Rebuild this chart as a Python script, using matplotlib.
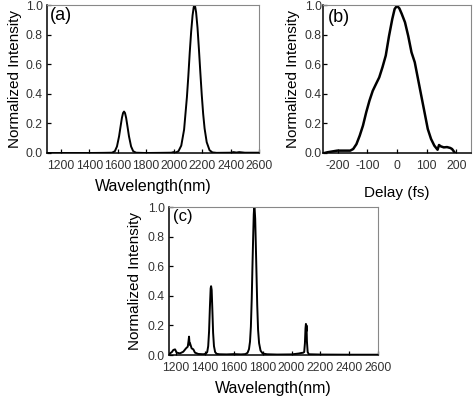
import matplotlib
matplotlib.use("Agg")
import matplotlib.pyplot as plt
from matplotlib import font_manager

# ── data ───────────────────────────────────────────────────────────

# (a) output spectrum, two peaks
wl_a = [1100, 1200, 1300, 1400, 1500, 1560, 1580, 1595, 1610, 1620, 1630, 1638,
        1645, 1652, 1660, 1670, 1680, 1695, 1710, 1730, 1800, 1900, 1980, 1995,
        2010, 2030, 2050, 2070, 2090, 2100, 2110, 2120, 2130, 2138, 2143, 2148,
        2155, 2165, 2175, 2185, 2195, 2205, 2215, 2230, 2250, 2270, 2300, 2400,
        2420, 2440, 2460, 2500, 2600]
int_a = [0.0, 0.0, 0.0, 0.0, 0.001, 0.002, 0.012, 0.044, 0.113, 0.176, 0.237, 0.27,
         0.28, 0.27, 0.237, 0.176, 0.113, 0.044, 0.012, 0.002, 0.0, 0.001, 0.002, 0.006,
         0.003, 0.012, 0.05, 0.158, 0.378, 0.52, 0.68, 0.82, 0.93, 0.985, 1.0, 0.99,
         0.95, 0.846, 0.70, 0.543, 0.392, 0.264, 0.166, 0.073, 0.019, 0.004, 0.001, 0.002,
         0.006, 0.003, 0.006, 0.002, 0.002]

# (b) autocorrelation trace
delay_b = [-245, -235, -202, -158, -148, -137, -126, -115, -104, -93, -82, -71,
           -60, -49, -38, -27, -16, -8, 0, 8, 16, 27, 38, 49, 60, 71, 82, 93,
           104, 115, 126, 137, 142, 148, 158, 169, 180, 186, 196]
int_b = [0.0, 0.005, 0.016, 0.016, 0.027, 0.06, 0.117, 0.185, 0.275, 0.354, 0.42, 0.466,
         0.511, 0.58, 0.658, 0.79, 0.905, 0.973, 0.995, 0.977, 0.94, 0.883, 0.79, 0.68,
         0.613, 0.5, 0.387, 0.275, 0.162, 0.095, 0.05, 0.022, 0.054, 0.045, 0.038, 0.04,
         0.034, 0.027, 0.0]

# (c) cascaded spectrum
wl_c = [1150, 1157, 1170, 1180, 1192, 1203, 1226, 1249, 1268, 1280, 1285, 1289,
        1293, 1296, 1307, 1319, 1330, 1353, 1388, 1405, 1415, 1422, 1428, 1434,
        1439, 1442, 1446, 1451, 1456, 1462, 1470, 1480, 1500, 1550, 1600, 1650,
        1680, 1695, 1705, 1712, 1718, 1724, 1729, 1734, 1738, 1741, 1744, 1748,
        1752, 1757, 1762, 1768, 1775, 1785, 1800, 1830, 1900, 2000, 2050, 2070,
        2080, 2088, 2093, 2097, 2100, 2102, 2104, 2107, 2112, 2120, 2200, 2400, 2600]
int_c = [0.0, 0.011, 0.02, 0.034, 0.038, 0.016, 0.011, 0.022, 0.045, 0.056, 0.09, 0.124,
         0.07, 0.079, 0.045, 0.038, 0.016, 0.007, 0.005, 0.008, 0.02, 0.06, 0.16, 0.33,
         0.45, 0.465, 0.44, 0.30, 0.15, 0.06, 0.02, 0.008, 0.005, 0.004, 0.006, 0.004,
         0.006, 0.015, 0.04, 0.09, 0.19, 0.38, 0.60, 0.80, 0.95, 1.0, 0.99, 0.92,
         0.76, 0.55, 0.34, 0.17, 0.08, 0.03, 0.01, 0.005, 0.003, 0.004, 0.01, 0.014,
         0.015, 0.02, 0.08, 0.18, 0.21, 0.16, 0.2, 0.09, 0.02, 0.005, 0.003, 0.002, 0.002]

y_ticks = [0.0, 0.2, 0.4, 0.6, 0.8, 1.0]
wl_ticks = [1200, 1400, 1600, 1800, 2000, 2200, 2400, 2600]
delay_ticks = [-200, -100, 0, 100, 200]

# ── style ──────────────────────────────────────────────────────────

installed = {f.name for f in font_manager.fontManager.ttflist}
SANS = "Liberation Sans" if "Liberation Sans" in installed else "DejaVu Sans"

plt.rcParams["font.family"] = SANS
plt.rcParams["axes.unicode_minus"] = False


def _style(ax, ypad=3):
    for side in ("left", "bottom"):
        ax.spines[side].set_color("black")
        ax.spines[side].set_linewidth(1.1)
    for side in ("top", "right"):
        ax.spines[side].set_color("#888888")
        ax.spines[side].set_linewidth(0.8)
    ax.tick_params(direction="in", length=3, width=0.9, labelsize=8.7,
                   colors="black", labelcolor="#333333")
    ax.tick_params(axis="x", pad=5)
    ax.tick_params(axis="y", pad=ypad)
    ax.set_ylim(0, 1.0)
    ax.set_yticks(y_ticks)
    ax.set_yticklabels([f"{v:.1f}" for v in y_ticks])


fig = plt.figure(figsize=(4.74, 3.99), dpi=100)

# ── (a) ──
ax_a = fig.add_axes([47 / 474, 1 - 153 / 399, 212 / 474, 148 / 399])
ax_a.plot(wl_a, int_a, color="black", lw=1.4)
ax_a.set_xlim(1100, 2600)
ax_a.set_xticks(wl_ticks)
_style(ax_a)
ax_a.set_xlabel("Wavelength(nm)", fontsize=11.5, labelpad=5)
ax_a.set_ylabel("Normalized Intensity", fontsize=11, labelpad=3)
ax_a.text(0.015, 0.985, "(a)", transform=ax_a.transAxes, ha="left", va="top", fontsize=13)

# ── (b) ──
ax_b = fig.add_axes([323 / 474, 1 - 153 / 399, 148 / 474, 148 / 399])
ax_b.plot(delay_b, int_b, color="black", lw=1.8)
ax_b.set_xlim(-250, 250)
ax_b.set_xticks(delay_ticks)
_style(ax_b, ypad=1)
ax_b.set_xlabel("Delay (fs)", fontsize=11, labelpad=10)
ax_b.set_ylabel("Normalized Intensity", fontsize=11, labelpad=3)
ax_b.text(0.03, 0.975, "(b)", transform=ax_b.transAxes, ha="left", va="top", fontsize=13)

# ── (c) ──
ax_c = fig.add_axes([169 / 474, 1 - 355 / 399, 209 / 474, 148 / 399])
ax_c.plot(wl_c, int_c, color="black", lw=1.4)
ax_c.set_xlim(1150, 2600)
ax_c.set_xticks(wl_ticks)
_style(ax_c)
ax_c.set_xlabel("Wavelength(nm)", fontsize=11.5, labelpad=5)
ax_c.set_ylabel("Normalized Intensity", fontsize=11, labelpad=4)
ax_c.text(0.02, 0.985, "(c)", transform=ax_c.transAxes, ha="left", va="top", fontsize=12)

fig.savefig("out.png", dpi=100)
plt.close(fig)
